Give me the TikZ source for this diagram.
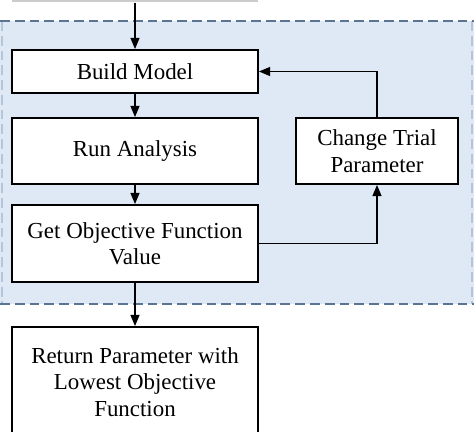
\documentclass[tikz,border=0pt]{standalone}
\usepackage{fontspec}
\setmainfont{Liberation Serif}
\usetikzlibrary{arrows.meta}
\definecolor{loopfill}{HTML}{DFE9F5}
\definecolor{loopline}{HTML}{5A7594}
\definecolor{loopside}{HTML}{B5C6DA}
\begin{document}
\begin{tikzpicture}[>={Triangle[length=8pt,width=6.5pt]},line width=0.8pt,
  block/.style={draw,line width=1.4pt,fill=white,align=center,minimum width=6.15cm,font=\fontsize{16.3}{18.8}\selectfont}]
\useasboundingbox (0,0) rectangle (11.85,-10.8);
% loop region
\fill[loopfill] (0,-0.525) rectangle (11.85,-7.6);
\draw[loopside,line width=1pt,dash pattern=on 7pt off 3.5pt] (0.05,-0.525) -- (0.05,-7.6);
\draw[loopside,line width=1pt,dash pattern=on 7pt off 3.5pt] (11.8,-0.525) -- (11.8,-7.6);
\draw[loopline,line width=1.3pt,dash pattern=on 7pt off 3.5pt] (0,-0.525) -- (11.85,-0.525);
\draw[loopline,line width=1.3pt,dash pattern=on 7pt off 3.5pt] (0,-7.6) -- (11.85,-7.6);

\node[fill=black!20,minimum width=6.15cm,minimum height=1cm,inner sep=0pt] (prev) at (3.375,0.45) {};
\node[block,minimum height=1.075cm] (build) at (3.375,-1.7875) {Build Model};
\node[block,minimum height=1.65cm] (run) at (3.375,-3.775) {Run Analysis};
\node[block,minimum height=1.925cm] (get) at (3.375,-6.0875) {Get Objective Function\\Value};
\node[block,minimum width=4.05cm,minimum height=1.65cm] (change) at (9.425,-3.775) {Change Trial\\Parameter};
\node[block,minimum height=2.75cm] (ret) at (3.375,-9.55) {Return Parameter with\\Lowest Objective\\Function};

\draw[->] (prev) -- (build);
\draw[->] (build) -- (run);
\draw[->] (run) -- (get);
\draw[->] (get) -- (ret);
\draw[->] (get.east) -| (change.south);
\draw[->] (change.north) |- (build.east);
\end{tikzpicture}
\end{document}
